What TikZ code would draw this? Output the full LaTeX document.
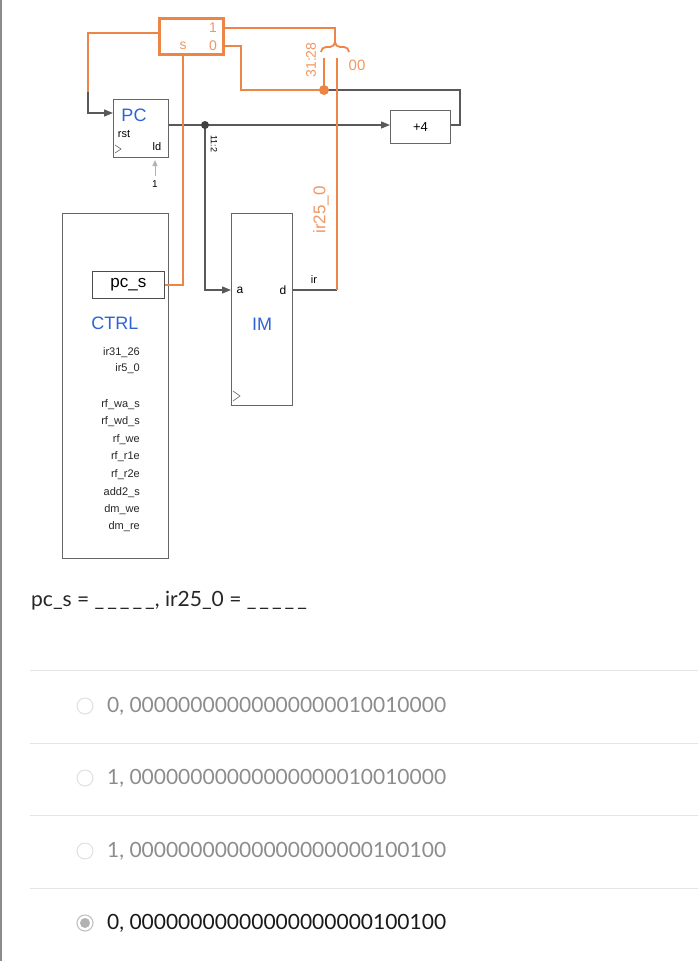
\documentclass[tikz,border=0pt]{standalone}
\usepackage{fontspec}
\setmainfont{Liberation Sans}
\newfontfamily\lato{Lato}
\usetikzlibrary{arrows.meta}
\definecolor{org}{HTML}{EC8545}
\definecolor{blu}{HTML}{2E63D6}
\begin{document}
\begin{tikzpicture}[x=1pt,y=-1pt,
  box/.style={draw=black!60,line width=0.9pt,fill=white},
  gw/.style={draw=black!65,line width=1.3pt},
  ar/.style={-{Triangle[length=9pt,width=7pt]}},
  ow/.style={draw=org,line width=2.8pt},
  ot/.style={text=org!85!white},
  lab/.style={font=\fontsize{11}{12}\selectfont,inner sep=0},
  opt/.style={font=\lato\fontsize{21}{24}\selectfont,anchor=west,inner sep=0},
  sep/.style={draw=black!10,line width=0.8pt}]
\useasboundingbox (0,0) rectangle (698,961);
\draw[draw=black!45,line width=1.2pt] (1,0) -- (1,961);
% boxes
\node[box,minimum width=106,minimum height=345,anchor=north west] (ctrl) at (62,213) {};
\node[box,minimum width=61,minimum height=192,anchor=north west] (im) at (231,213) {};
\node[box,minimum width=55,minimum height=58,anchor=north west] (pc) at (113,99) {};
\node[box,minimum width=60,minimum height=33,anchor=north west] (p4) at (390,110) {};
\node[draw=org,line width=2.6pt,minimum width=64,minimum height=36,anchor=north west] (mux) at (158,17) {};
\node[draw=black!70,line width=0.8pt,minimum width=72,minimum height=27,anchor=north west,fill=white] (pcs) at (92,271) {};
\node[font=\fontsize{17}{18}\selectfont] at (pcs.center) {pc\_s};
% texts
\node[text=blu,font=\fontsize{18}{19}\selectfont] (pct) at (134,115) {PC};
\node[lab] (rst) at (124,134) {rst};
\node[lab] (ld) at (157,147) {ld};
\draw[black!60,line width=0.6pt] (115,145)--(121,149)--(115,153);
\draw[black!60,line width=0.6pt] (233,391)--(240,396)--(233,401);
\node[lab,font=\fontsize{10}{11}\selectfont] (one) at (155,184) {1};
\draw[black!30,line width=1pt,-{Triangle[length=6pt,width=5pt]}] (155,176) -- (155,160);
\node[font=\fontsize{13}{14}\selectfont] (p4t) at (p4.center) {+4};
\node[text=blu,font=\fontsize{18}{19}\selectfont] (ctrlt) at (115,323) {CTRL};
\node[text=blu,font=\fontsize{18}{19}\selectfont] (imt) at (262,324) {IM};
\node[lab,font=\fontsize{12}{13}\selectfont] (a) at (240,290) {a};
\node[lab,font=\fontsize{12}{13}\selectfont] (d) at (283,290) {d};
\node[lab,font=\fontsize{11}{12}\selectfont] (ir) at (314,280) {ir};
\foreach \t/\y in {ir31\_26/353,ir5\_0/369,rf\_wa\_s/405,rf\_wd\_s/422,rf\_we/440,rf\_r1e/457,rf\_r2e/475,add2\_s/493,dm\_we/510,dm\_re/527}
  \node[lab,anchor=east,text=black!85,font=\fontsize{11}{12}\selectfont] at (140,\y) {\t};
\node[ot,font=\fontsize{14}{15}\selectfont] (m1) at (213,28) {1};
\node[ot,font=\fontsize{14}{15}\selectfont] (m0) at (213,46) {0};
\node[ot,font=\fontsize{14}{15}\selectfont] (ms) at (183,46) {s};
\node[ot,font=\fontsize{14}{15}\selectfont,rotate=90] (b31) at (311,60) {31:28};
\node[ot,font=\fontsize{15}{16}\selectfont] (z00) at (357,65) {00};
\node[ot,font=\fontsize{17}{18}\selectfont,rotate=90] (irl) at (321,210) {ir25\_0};
\node[lab,font=\fontsize{9}{10}\selectfont,rotate=-90] (l112) at (214,144) {11:2};
% grey wires
\coordinate (dot) at (205,125);
\draw[gw,ar] (pc.east |- 0,125) -- (p4.west |- 0,125);
\draw[gw,ar] (dot) -- (205,290) -- (im.west |- 0,290);
\fill[black!75] (dot) circle (4);
\draw[gw] (im.east |- 0,290) -- (337,290);
\draw[gw] (p4.east |- 0,125) -- (460,125) -- (460,90) -- (324,90);
\draw[gw,ar] (88,92) -- (88,113) -- (pc.west |- 0,113);
% orange wires
\draw[ow] (mux.west |- 0,33) -- (88,33) -- (88,92);
\draw[ow] (mux.east |- 0,46) -- (241,46) -- (241,90) -- (324,90);
\draw[ow] (324,90) -- (324,58);
\fill[org] (324,90) circle (5);
\draw[ow] (mux.east |- 0,28) -- (335,28) -- (335,43);
\draw[org,line width=1.8pt] (321,52) to[out=90,in=180] (326,47) -- (330,47) to[out=0,in=-90] (335,42) to[out=-90,in=180] (340,47) -- (344,47) to[out=0,in=90] (349,52);
\draw[ow] (337,58) -- (337,290);
\draw[ow] (183,53) -- (183,285) -- (pcs.east |- 0,285);
% question
\node[opt,text=black!85] (q) at (31,601) {pc\_s = \_\kern3pt\_\kern3pt\_\kern3pt\_\kern3pt\_, ir25\_0 = \_\kern3pt\_\kern3pt\_\kern3pt\_\kern3pt\_};
\foreach \y in {670,743,815,888} \draw[sep] (30,\y) -- (698,\y);
\foreach \y/\t/\c in {706/{0, 00000000000000000010010000}/black!45,778/{1, 00000000000000000010010000}/black!45,851/{1, 00000000000000000000100100}/black!45,923/{0, 00000000000000000000100100}/black!90}{
  \draw[black!12,line width=1pt,fill=white] (85,\y) circle (8);
  \node[opt,text=\c] at (107,\y) {\t};
}
\draw[black!25,line width=1pt,fill=white] (85,923) circle (8);
\fill[black!30] (85,923) circle (5);
\end{tikzpicture}
\end{document}
